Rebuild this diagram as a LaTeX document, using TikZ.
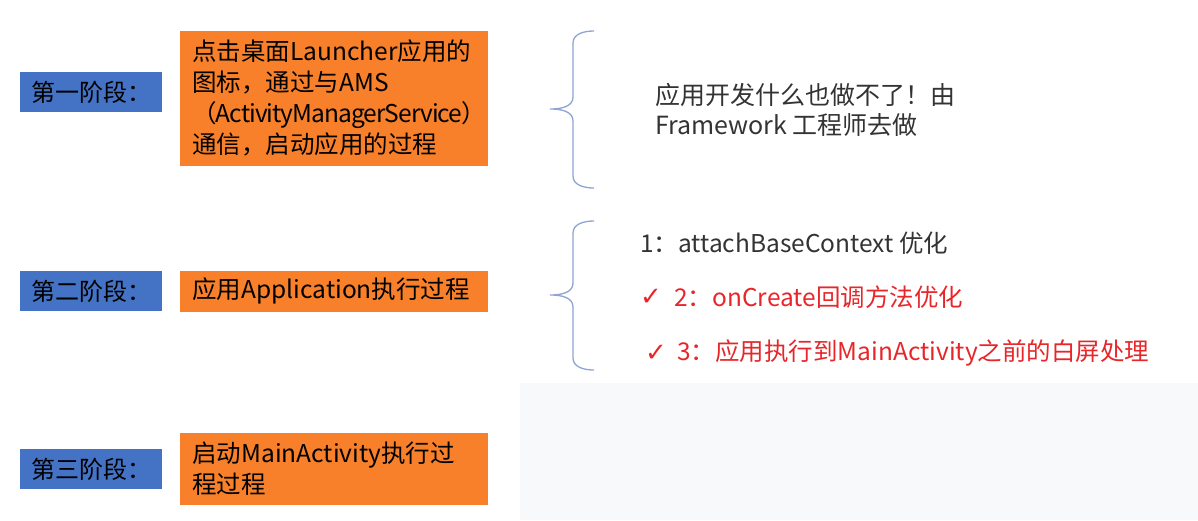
\documentclass[tikz,border=0pt]{standalone}
\usepackage{fontspec}
\setmainfont{Noto Sans CJK SC}
\newfontfamily\symfont{DejaVu Sans}
\usetikzlibrary{positioning}
\definecolor{stageblue}{HTML}{4472C4}
\definecolor{steporange}{HTML}{F8802A}
\definecolor{bracecol}{HTML}{8EA4D2}
\definecolor{notered}{HTML}{E8262A}
\definecolor{notegray}{HTML}{333333}
\definecolor{panel}{HTML}{F8F9FB}

\begin{document}
\begin{tikzpicture}[x=1pt,y=-1pt,
  stage/.style={fill=stageblue, minimum width=142pt, minimum height=40pt, inner sep=0pt, font=\fontsize{24}{28}\selectfont},
  work/.style={fill=steporange, text width=284pt, inner xsep=12pt, inner ysep=5pt, align=left, font=\fontsize{24.5}{31}\selectfont},
  note/.style={anchor=west, text=notegray, inner sep=0pt, align=left, font=\fontsize{24.5}{30}\selectfont},
  hot/.style={note, text=notered},
  tick/.style={anchor=west, text=notered, inner sep=0pt, font=\symfont\fontsize{26}{28}\selectfont},
  curl/.style={draw=bracecol, line width=1.3pt}]
\useasboundingbox (0,0) rectangle (1198,520);
\fill[panel] (520,383) rectangle (1198,520);

\node[stage] (s1) at (91,92) {第一阶段：};
\node[stage] (s2) at (91,291) {第二阶段：};
\node[stage] (s3) at (91,469) {第三阶段：};

\node[work, right=18pt of s1, yshift=-6pt, minimum height=135pt] (w1) {点击桌面Launcher应用的\\图标，通过与AMS\\{\addfontfeature{LetterSpace=-4}（ActivityManagerService）}\\通信，启动应用的过程};
\node[work, right=18pt of s2, minimum height=41pt] (w2) {应用Application执行过程};
\node[work, right=18pt of s3, minimum height=72pt] (w3) {启动MainActivity执行过\\程过程};

\node[note, font=\fontsize{25}{30}\selectfont] (n1) at (655,110) {应用开发什么也做不了！由\\Framework 工程师去做};
\node[note] (n2) at (640,243) {1：attachBaseContext 优化};
\node[tick] (c2) at (640,297) {✓};
\node[hot, right=12pt of c2] (n3) {2：onCreate回调方法优化};
\node[tick] (c3) at (645,353) {✓};
\node[hot, right=10pt of c3] (n4) {3：应用执行到MainActivity之前的白屏处理};

\draw[curl] (594,31) to[out=180,in=90] (573,43) -- (573,97) to[out=-90,in=0] (550,109)
    to[out=0,in=90] (573,121) -- (573,176) to[out=-90,in=180] (594,188);
\draw[curl] (594,221) to[out=180,in=90] (573,233) -- (573,283) to[out=-90,in=0] (550,295)
    to[out=0,in=90] (573,307) -- (573,358) to[out=-90,in=180] (594,370);
\end{tikzpicture}
\end{document}
